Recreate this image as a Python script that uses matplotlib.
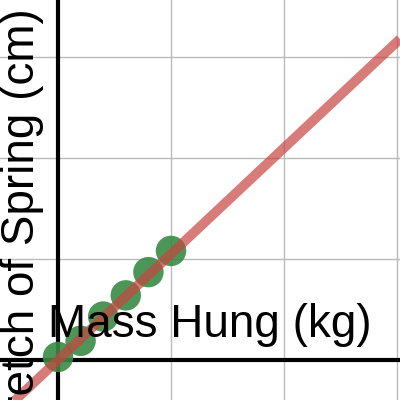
import numpy as np
import matplotlib.pyplot as plt

# data (grid units)
mass = [0.0, 0.2, 0.4, 0.6, 0.8, 1.0]
stretch = [0.03, 0.19, 0.43, 0.64, 0.87, 1.08]
slope = 1.05
x_grid = [0, 1, 2, 3]
y_grid = [0, 1, 2, 3]

fig = plt.figure(figsize=(4, 4), dpi=100)
ax = fig.add_axes([0, 0, 1, 1])
ax.set_xlim(-58 / 113, 342 / 113)
ax.set_ylim(-40 / 101, 360 / 101)
for s in ax.spines.values():
    s.set_visible(False)
ax.set_xticks([]); ax.set_yticks([])

for g in x_grid:
    ax.axvline(g, color='#bbbbbb', lw=1, zorder=0)
for g in y_grid:
    ax.axhline(g, color='#bbbbbb', lw=1, zorder=0)
ax.axhline(0, color='black', lw=3, zorder=1)
ax.axvline(0, color='black', lw=3, zorder=1)

ax.scatter(mass, stretch, s=480, color='#388c46', alpha=0.9, zorder=2, edgecolors='none')
xs = np.array(ax.get_xlim())
ax.plot(xs, slope * xs, color='#c74440', lw=7, alpha=0.7, zorder=3, solid_capstyle='butt')

ax.text(210 / 400, 1 - 325 / 400, 'Mass Hung (kg)', transform=ax.transAxes,
        ha='center', va='center', fontsize=33, family='Liberation Sans', zorder=4)
ax.text(22 / 400, 1 - 8 / 400, 'Stretch of Spring (cm)', transform=ax.transAxes,
        ha='center', va='top', rotation=90, fontsize=33, family='Liberation Sans', zorder=4)

fig.savefig('out.png', dpi=100)
